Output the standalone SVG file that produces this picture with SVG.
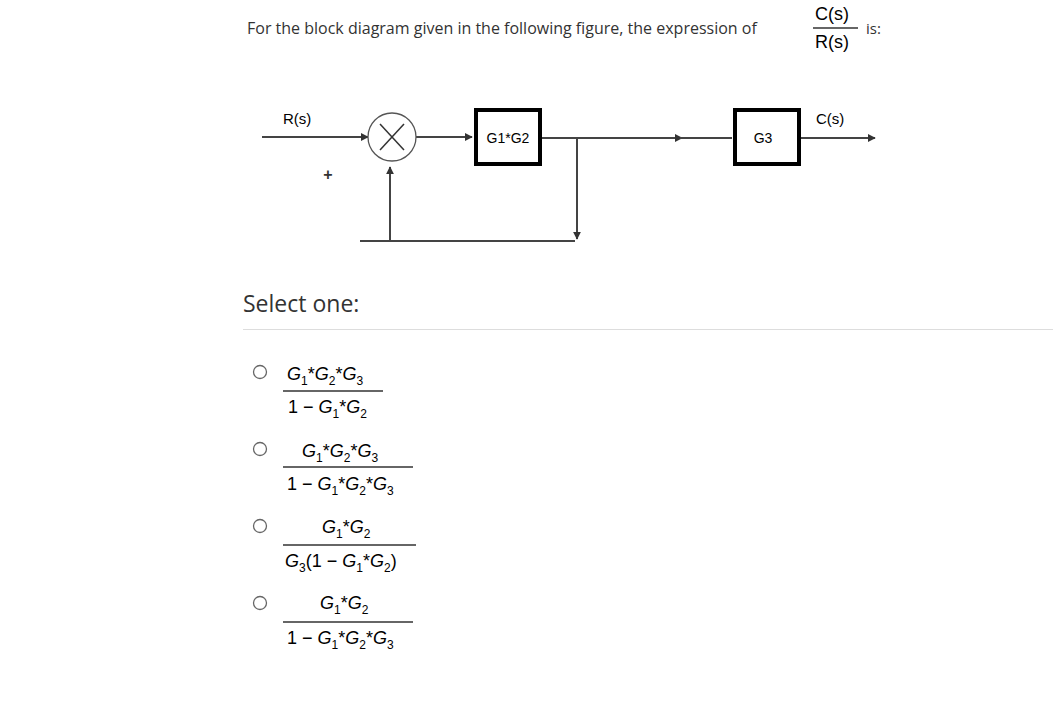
<svg xmlns="http://www.w3.org/2000/svg" width="1053" height="704" viewBox="0 0 1053 704">
<defs>
<style>
.t{font-family:"Open Sans","Liberation Sans",sans-serif;fill:#333}
.m{font-family:"Liberation Sans",Arial,sans-serif;fill:#000;font-size:18px}
.mi{font-style:italic}
.w{stroke:#444;stroke-width:2;fill:none}
.blk{fill:#fff;stroke:#000;stroke-width:4}
.radio{fill:#fff;stroke:#666;stroke-width:1.3}
.fl{stroke:#333;stroke-width:1.3}
</style>
<marker id="a" viewBox="0 0 10 10" refX="9" refY="5" markerWidth="4" markerHeight="4" orient="auto"><path d="M0,0L10,5L0,10z" fill="#333"/></marker>
</defs>
<rect width="1053" height="704" fill="#fff"/>
<text class="t" x="247" y="34" font-size="16">For the block diagram given in the following figure, the expression of</text>
<text class="m" x="815" y="20" font-size="17">C(s)</text>
<line class="fl" x1="813" y1="28" x2="858" y2="28"/>
<text class="m" x="815" y="48" font-size="17">R(s)</text>
<text class="t" x="866" y="34" font-size="15">is:</text>

<g id="connectors">
<line class="w" x1="262" y1="137" x2="368" y2="137" marker-end="url(#a)"/>
<line class="w" x1="416" y1="137" x2="472" y2="137" marker-end="url(#a)"/>
<line class="w" x1="542" y1="138" x2="682" y2="138" marker-end="url(#a)"/>
<line class="w" x1="680" y1="138" x2="732" y2="138"/>
<polyline class="w" points="577,138 577,239" marker-end="url(#a)"/>
<polyline class="w" points="577,241 360,241 360,164 360,164" transform="translate(32,0)" style="display:none"/>
<polyline class="w" points="577,241 360+0,241" style="display:none"/>
<polyline class="w" points="575,241 360,241" transform="translate(0,0)"/>
<line class="w" x1="360" y1="241" x2="360" y2="241"/>
<line class="w" x1="360" y1="241" x2="360" y2="241"/>
<polyline class="w" points="575,241 360,241" style="display:none"/>
<polyline class="w" points="360,241 360,241"/>
<polyline class="w" points="390,241 390,167" marker-end="url(#a)"/>
<line class="w" x1="800" y1="138" x2="875" y2="138" marker-end="url(#a)"/>
</g>
<g id="sum">
<circle cx="392" cy="137" r="24" fill="#fff" stroke="#555" stroke-width="1.3"/>
<line x1="380" y1="124" x2="404" y2="150" stroke="#333" stroke-width="1.5"/>
<line x1="404" y1="124" x2="380" y2="150" stroke="#333" stroke-width="1.5"/>
</g>
<g id="g12"><rect class="blk" x="476" y="110" width="64" height="54"/><text x="508" y="143" text-anchor="middle" font-family="Liberation Sans,sans-serif" font-size="14">G1*G2</text></g>
<g id="g3"><rect class="blk" x="735" y="110" width="64" height="54"/><text x="763" y="143" text-anchor="middle" font-family="Liberation Sans,sans-serif" font-size="14">G3</text></g>
<text x="283" y="124" font-family="Liberation Sans,sans-serif" font-size="15">R(s)</text>
<text x="816" y="124" font-family="Liberation Sans,sans-serif" font-size="15">C(s)</text>
<text x="328" y="180" font-family="Liberation Sans,sans-serif" font-size="16" font-weight="bold" text-anchor="middle" fill="#333">+</text>

<text class="t" x="243" y="312" font-size="23">Select one:</text>
<line x1="243" y1="329.5" x2="1053" y2="329.5" stroke="#ddd"/>

<g class="m">
<circle class="radio" cx="260" cy="372" r="6.5"/>
<text x="287" y="380"><tspan class="mi">G</tspan><tspan font-size="12" dy="5">1</tspan><tspan dy="-5">*</tspan><tspan class="mi">G</tspan><tspan font-size="12" dy="5">2</tspan><tspan dy="-5">*</tspan><tspan class="mi">G</tspan><tspan font-size="12" dy="5">3</tspan></text>
<line class="fl" x1="283" y1="391" x2="383" y2="391"/>
<text x="288" y="413">1 − <tspan class="mi">G</tspan><tspan font-size="12" dy="5">1</tspan><tspan dy="-5">*</tspan><tspan class="mi">G</tspan><tspan font-size="12" dy="5">2</tspan></text>

<circle class="radio" cx="260" cy="449" r="6.5"/>
<text x="302" y="457"><tspan class="mi">G</tspan><tspan font-size="12" dy="5">1</tspan><tspan dy="-5">*</tspan><tspan class="mi">G</tspan><tspan font-size="12" dy="5">2</tspan><tspan dy="-5">*</tspan><tspan class="mi">G</tspan><tspan font-size="12" dy="5">3</tspan></text>
<line class="fl" x1="283" y1="467" x2="413" y2="467"/>
<text x="287" y="490">1 − <tspan class="mi">G</tspan><tspan font-size="12" dy="5">1</tspan><tspan dy="-5">*</tspan><tspan class="mi">G</tspan><tspan font-size="12" dy="5">2</tspan><tspan dy="-5">*</tspan><tspan class="mi">G</tspan><tspan font-size="12" dy="5">3</tspan></text>

<circle class="radio" cx="260" cy="526" r="6.5"/>
<text x="322" y="533"><tspan class="mi">G</tspan><tspan font-size="12" dy="5">1</tspan><tspan dy="-5">*</tspan><tspan class="mi">G</tspan><tspan font-size="12" dy="5">2</tspan></text>
<line class="fl" x1="283" y1="545" x2="416" y2="545"/>
<text x="285" y="567"><tspan class="mi">G</tspan><tspan font-size="12" dy="5">3</tspan><tspan dy="-5">(1 − </tspan><tspan class="mi">G</tspan><tspan font-size="12" dy="5">1</tspan><tspan dy="-5">*</tspan><tspan class="mi">G</tspan><tspan font-size="12" dy="5">2</tspan><tspan dy="-5">)</tspan></text>

<circle class="radio" cx="260" cy="603" r="6.5"/>
<text x="320" y="609"><tspan class="mi">G</tspan><tspan font-size="12" dy="5">1</tspan><tspan dy="-5">*</tspan><tspan class="mi">G</tspan><tspan font-size="12" dy="5">2</tspan></text>
<line class="fl" x1="283" y1="622" x2="413" y2="622"/>
<text x="287" y="644">1 − <tspan class="mi">G</tspan><tspan font-size="12" dy="5">1</tspan><tspan dy="-5">*</tspan><tspan class="mi">G</tspan><tspan font-size="12" dy="5">2</tspan><tspan dy="-5">*</tspan><tspan class="mi">G</tspan><tspan font-size="12" dy="5">3</tspan></text>
</g>
</svg>
